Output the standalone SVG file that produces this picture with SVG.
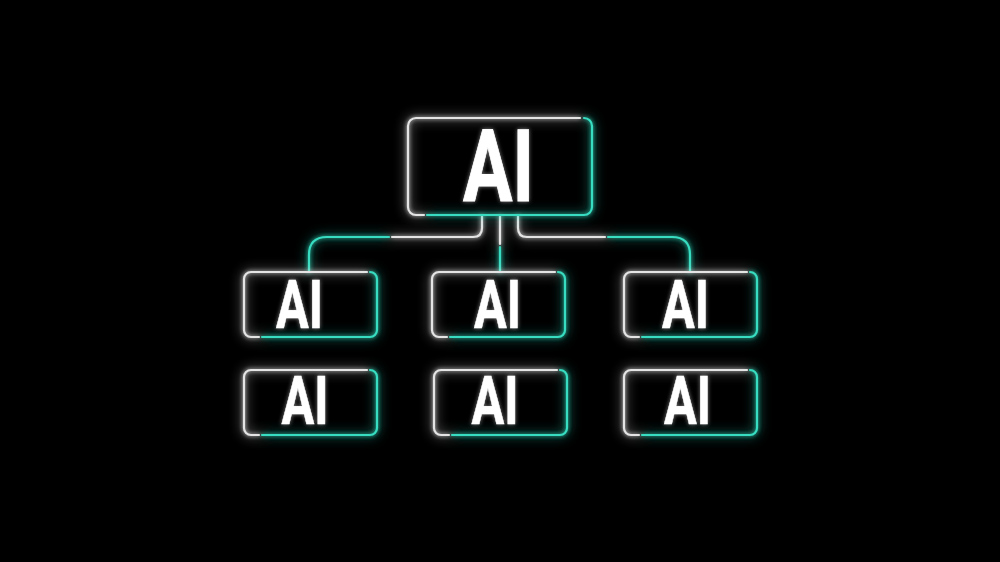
<svg xmlns="http://www.w3.org/2000/svg" xmlns:xlink="http://www.w3.org/1999/xlink" width="1000" height="562" viewBox="0 0 1000 562">
  <defs>
    <style>
      .w { fill: none; stroke: #e4e4e4; stroke-width: 2.2; stroke-linecap: round; }
      .t { fill: none; stroke: #38dcc0; stroke-width: 2.2; stroke-linecap: round; }
      .lbl { fill: #ffffff; stroke: #ffffff; font-family: Roboto, "Liberation Sans", sans-serif; font-weight: 700; text-anchor: middle; }
      .big { font-size: 100px; stroke-width: 0.9; }
      .small { font-size: 66px; stroke-width: 0.6; }
    </style>
    <filter id="glow" x="-30%" y="-40%" width="160%" height="180%">
      <feGaussianBlur in="SourceGraphic" stdDeviation="6" result="b1"/>
      <feGaussianBlur in="SourceGraphic" stdDeviation="2" result="b2"/>
      <feGaussianBlur in="SourceGraphic" stdDeviation="0.5" result="b3"/>
      <feMerge>
        <feMergeNode in="b1"/>
        <feMergeNode in="b2"/>
        <feMergeNode in="b3"/>
      </feMerge>
    </filter>
    <filter id="tglow" x="-20%" y="-20%" width="140%" height="140%">
      <feGaussianBlur in="SourceGraphic" stdDeviation="2" result="b"/>
      <feComponentTransfer in="b" result="bd">
        <feFuncA type="linear" slope="0.5"/>
      </feComponentTransfer>
      <feMerge>
        <feMergeNode in="bd"/>
        <feMergeNode in="SourceGraphic"/>
      </feMerge>
    </filter>
    <g id="childBox">
      <path class="w" d="M 15 65 H 7 A 7 7 0 0 1 0 58 V 7 A 7 7 0 0 1 7 0 H 123"/>
      <path class="t" d="M 126 0 A 7 7 0 0 1 133 7 V 58 A 7 7 0 0 1 126 65 H 18"/>
    </g>
  </defs>

  <rect x="0" y="0" width="1000" height="562" fill="#000000"/>

  <g id="connectors" filter="url(#glow)">
    <path class="w" d="M 482 216 V 228 Q 482 237 473 237 H 392"/>
    <path class="t" d="M 389 237 H 327 Q 309 237 309 255 V 272"/>
    <path class="w" d="M 518 216 V 228 Q 518 237 527 237 H 605"/>
    <path class="t" d="M 608 237 H 672 Q 690 237 690 255 V 272"/>
    <path class="w" d="M 500 216 V 244"/>
    <path class="t" d="M 500 247 V 272"/>
  </g>

  <g id="node-root">
    <g filter="url(#glow)" transform="translate(408,118)">
      <path class="w" d="M 16 97 H 8 A 8 8 0 0 1 0 89 V 8 A 8 8 0 0 1 8 0 H 172"/>
      <path class="t" d="M 176 0 A 8 8 0 0 1 184 8 V 89 A 8 8 0 0 1 176 97 H 19"/>
    </g>
    <text class="lbl big" x="498.5" y="200.5" textLength="71" lengthAdjust="spacingAndGlyphs" filter="url(#tglow)">AI</text>
  </g>

  <g id="node-r1-left">
    <use href="#childBox" xlink:href="#childBox" transform="translate(244,272)" filter="url(#glow)"/>
    <text class="lbl small" x="299.5" y="327.5" textLength="47" lengthAdjust="spacingAndGlyphs" filter="url(#tglow)">AI</text>
  </g>
  <g id="node-r1-mid">
    <use href="#childBox" xlink:href="#childBox" transform="translate(432,272)" filter="url(#glow)"/>
    <text class="lbl small" x="497.5" y="327.5" textLength="47" lengthAdjust="spacingAndGlyphs" filter="url(#tglow)">AI</text>
  </g>
  <g id="node-r1-right">
    <use href="#childBox" xlink:href="#childBox" transform="translate(624,272)" filter="url(#glow)"/>
    <text class="lbl small" x="685.5" y="327.5" textLength="47" lengthAdjust="spacingAndGlyphs" filter="url(#tglow)">AI</text>
  </g>
  <g id="node-r2-left">
    <use href="#childBox" xlink:href="#childBox" transform="translate(244,370)" filter="url(#glow)"/>
    <text class="lbl small" x="305" y="423.5" textLength="47" lengthAdjust="spacingAndGlyphs" filter="url(#tglow)">AI</text>
  </g>
  <g id="node-r2-mid">
    <use href="#childBox" xlink:href="#childBox" transform="translate(434,370)" filter="url(#glow)"/>
    <text class="lbl small" x="495" y="423.5" textLength="47" lengthAdjust="spacingAndGlyphs" filter="url(#tglow)">AI</text>
  </g>
  <g id="node-r2-right">
    <use href="#childBox" xlink:href="#childBox" transform="translate(624,370)" filter="url(#glow)"/>
    <text class="lbl small" x="687.5" y="423.5" textLength="47" lengthAdjust="spacingAndGlyphs" filter="url(#tglow)">AI</text>
  </g>
</svg>
